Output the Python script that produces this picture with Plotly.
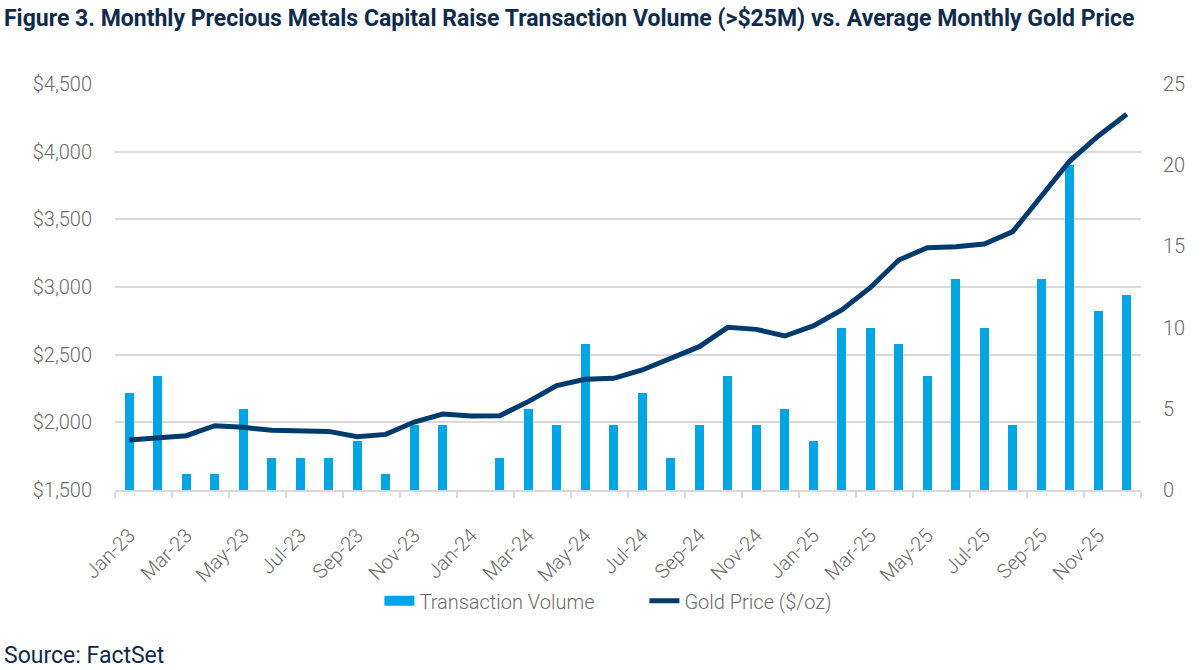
import numpy as np
import plotly.graph_objects as go

months = ["Jan-23", "Feb-23", "Mar-23", "Apr-23", "May-23", "Jun-23", "Jul-23", "Aug-23", "Sep-23", "Oct-23", "Nov-23", "Dec-23",
          "Jan-24", "Feb-24", "Mar-24", "Apr-24", "May-24", "Jun-24", "Jul-24", "Aug-24", "Sep-24", "Oct-24", "Nov-24", "Dec-24",
          "Jan-25", "Feb-25", "Mar-25", "Apr-25", "May-25", "Jun-25", "Jul-25", "Aug-25", "Sep-25", "Oct-25", "Nov-25", "Dec-25"]

transaction_volume = [6, 7, 1, 1, 5, 2, 2, 2, 3, 1, 4, 4,
                      0, 2, 5, 4, 9, 4, 6, 2, 4, 7, 4, 5,
                      3, 10, 10, 9, 7, 13, 10, 4, 13, 20, 11, 12]

gold_price = [1869, 1882, 1901, 1975, 1963, 1941, 1936, 1933, 1894, 1911, 2002, 2061,
              2047, 2049, 2153, 2271, 2318, 2325, 2387, 2473, 2559, 2702, 2687, 2638,
              2712, 2830, 2995, 3199, 3290, 3298, 3318, 3409, 3667, 3931, 4116, 4276]

left_ticks = [1500, 2000, 2500, 3000, 3500, 4000, 4500]
left_ticktext = ["$1,500", "$2,000", "$2,500", "$3,000", "$3,500", "$4,000", "$4,500"]
right_ticks = [0, 5, 10, 15, 20, 25]

BAR = "#00A6E3"
LINE = "#003B6E"
NAVY = "#0F2B4C"
GRAY = "#6B6B6B"
GRID = "#D9D9D9"

xpos = np.arange(len(months)) + 0.5

fig = go.Figure()
fig.add_trace(go.Bar(x=xpos, y=transaction_volume, name="Transaction Volume", showlegend=False,
                     marker=dict(color=BAR, line=dict(width=0)), width=0.31, yaxis="y"))
fig.add_trace(go.Scatter(x=xpos, y=gold_price, name="Gold Price ($/oz)", mode="lines", showlegend=False,
                         line=dict(color=LINE, width=5), yaxis="y2"))
# legend entries (wide swatches like the original)
fig.add_trace(go.Scatter(x=[None], y=[None], name="Transaction Volume", mode="lines",
                         line=dict(color=BAR, width=10), yaxis="y"))
fig.add_trace(go.Scatter(x=[None], y=[None], name="Gold Price ($/oz)", mode="lines",
                         line=dict(color=LINE, width=5), yaxis="y2"))

tick_font = dict(size=20, color=GRAY, family="Roboto", weight=300)

fig.update_layout(
    width=1204, height=670,
    margin=dict(l=115, r=63, t=84, b=180),
    paper_bgcolor="white", plot_bgcolor="white",
    font=dict(family="Roboto", color=GRAY),
    showlegend=True,
    legend=dict(orientation="h", x=0.516, xanchor="center", y=-0.273, yanchor="middle",
                font=dict(size=20, color=GRAY, family="Roboto", weight=300),
                itemwidth=30, entrywidth=220, traceorder="normal"),
    xaxis=dict(range=[0, len(months)], tickmode="array",
               tickvals=xpos[::2], ticktext=months[::2], tickangle=-45,
               ticks="", showgrid=False, zeroline=False,
               showline=True, linecolor=GRID, linewidth=1.5, ticklabelstandoff=24,
               tickfont=dict(size=20, color=GRAY, family="Roboto", weight=300),
               minor=dict(tick0=0, dtick=2, ticks="outside", ticklen=6, tickcolor=GRID, tickwidth=1.5, showgrid=False)),
    yaxis=dict(side="right", range=[0, 25], tickvals=right_ticks, showgrid=False, zeroline=False,
               tickfont=tick_font, ticklabelstandoff=21),
    yaxis2=dict(side="left", overlaying="y", range=[1500, 4500], tickvals=left_ticks, ticktext=left_ticktext,
                showgrid=True, gridcolor=GRID, gridwidth=1.5, zeroline=False,
                tickfont=tick_font, ticklabelstandoff=22),
    bargap=0,
)

fig.add_annotation(text="<b>Figure 3. Monthly Precious Metals Capital Raise Transaction Volume (>$25M) vs. Average Monthly Gold Price</b>",
                   xref="paper", yref="paper", x=-115/1026, y=1 + (84 - 19) / 406, xanchor="left", yanchor="middle",
                   xshift=2, showarrow=False, font=dict(size=23, color=NAVY, family="Roboto"))
fig.add_annotation(text="Source: FactSet",
                   xref="paper", yref="paper", x=-115/1026, y=-(655 - 490) / 406, xanchor="left", yanchor="middle",
                   xshift=2, showarrow=False, font=dict(size=23, color=NAVY, family="Roboto"))

fig.write_html("out.html")
